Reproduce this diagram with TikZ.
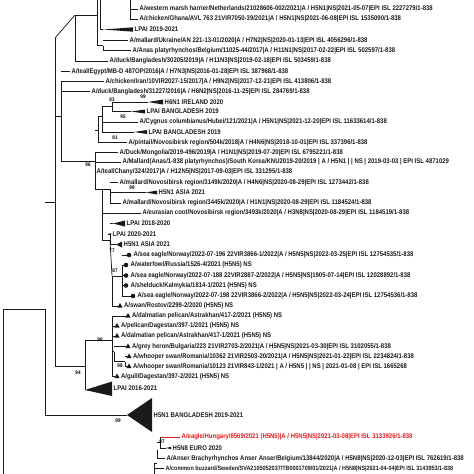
\documentclass[tikz,border=0pt]{standalone}
\usepackage{fontspec}
\setmainfont{Liberation Sans}
\newfontfamily\treefont[FakeStretch=0.88]{Liberation Sans}
\usetikzlibrary{shapes.geometric, positioning, calc}
\definecolor{treered}{HTML}{E3191C}
\definecolor{treeblack}{HTML}{1A1A1A}

\begin{document}
\begin{tikzpicture}[x=1pt, y=-1pt,
    leaf/.style={anchor=west, inner xsep=1.5pt, inner ysep=0pt, font=\treefont\bfseries\fontsize{6.8}{7}\selectfont, text=treeblack},
    boot/.style={inner sep=0pt, font=\treefont\bfseries\fontsize{5.2}{6}\selectfont},
    branch/.style={line width=0.75pt, color=treeblack},
    dot/.style={circle, fill=treeblack, inner sep=0pt, minimum size=4.6pt},
    tri/.style={regular polygon, regular polygon sides=3, fill=treeblack, inner sep=0pt, minimum size=6pt},
    wedge/.style={fill=treeblack}
]
\useasboundingbox (0,0) rectangle (474,474);

% top part (cut off above)
\node[leaf] (l00) at (138,9) {A/western marsh harrier/Netherlands/21028606-002/2021|A / H5N1|NS|2021-05-07|EPI ISL 2227279/1-838};
\node[leaf] (l01) at (138,19) {A/chicken/Ghana/AVL 763 21VIR7050-39/2021|A / H5N1|NS|2021-06-08|EPI ISL 1535090/1-838};
\coordinate (t02) at (103,29.5);
\node[leaf] (l02) at (133,29.5) {LPAI 2019-2021};
\node[leaf] (l03) at (128,40.5) {A/mallard/Ukraine/AN 221-13-01/2020|A / H7N2|NS|2020-01-13|EPI ISL 4056296/1-838};
\node[leaf] (l04) at (131,50.5) {A/Anas platyrhynchos/Belgium/11025-44/2017|A / H11N1|NS|2017-02-22|EPI ISL 502597/1-838};
\node[leaf] (l05) at (108,61) {A/duck/Bangladesh/30205/2019|A / H11N3|NS|2019-02-18|EPI ISL 503459/1-838};

\coordinate (n01) at (130,0);
\coordinate (n02) at (100,0);
\coordinate (n03) at (103,45.5);
\coordinate (n04) at (97,0);
\coordinate (n05) at (75,15);
\coordinate (n06) at (55,38);

\draw[branch] (n01) |- (l00.west);
\draw[branch] (n01) |- (l01.west);
\draw[branch] (n02) |- (t02);
\fill[wedge] (t02) -- (133,27.3) -- (133,31.7) -- cycle;
\draw[branch] (n03 |- l03) |- (l03.west);
\draw[branch] (n03) |- (l04.west);
\draw[branch] (n04) |- (n03);
\draw[branch] (n05) |- (n04 |- n05);
\draw[branch] (n05) |- (l05.west);
\draw[branch] (n06) -- (n05);

% middle part
\node[leaf] (l06) at (70,71.5) {A/teal/Egypt/MB-D 487OP/2016|A / H7N3|NS|2016-01-28|EPI ISL 387968/1-838};
\node[leaf] (l07) at (104,81.5) {A/chicken/Iran/10VIR2027-15/2017|A / H9N2|NS|2017-12-21|EPI ISL 413806/1-838};
\node[leaf] (l08) at (90,91.5) {A/duck/Bangladesh/31227/2016|A / H6N2|NS|2016-11-25|EPI ISL 284769/1-838};
\coordinate (t09) at (148,102);
\node[leaf] (l09) at (163,102) {H6N1 IRELAND 2020};
\coordinate (t10) at (131,111.5);
\node[leaf] (l10) at (145,111.5) {LPAI BANGLADESH 2019};
\node[leaf] (l11) at (138,122) {A/Cygnus columbianus/Hubei/121/2021|A / H5N1|NS|2021-12-20|EPI ISL 11633614/1-838};
\coordinate (t12) at (134,132);
\node[leaf] (l12) at (147,132) {LPAI BANGLADESH 2019};
\node[leaf] (l13) at (127,142.5) {A/pintail/Novosibirsk region/504k/2018|A / H4N6|NS|2018-10-01|EPI ISL 337396/1-838};
\node[leaf] (l14) at (118,152.5) {A/Duck/Mongolia/2019-496/2019|A / H1N1|NS|2019-07-20|EPI ISL 6795221/1-838};
\node[leaf] (l15) at (121,162) {A/Mallard(Anas/1-838 platyrhynchos)/South Korea/KNU2019-20/2019 | A / H5N1 | | NS | 2019-03-03 | EPI ISL 4871029};
\node[leaf] (l16) at (95,172) {A/teal/Chany/324/2017|A / H12N5|NS|2017-09-03|EPI ISL 331295/1-838};
\node[leaf] (l17) at (118,182.5) {A/mallard/Novosibirsk region/3149k/2020|A / H4N6|NS|2020-08-29|EPI ISL 1273442/1-838};
\coordinate (t18) at (146,192.5);
\node[leaf] (l18) at (157,192.5) {H5N1 ASIA 2021};
\node[leaf] (l19) at (121,203) {A/mallard/Novosibirsk region/3445k/2020|A / H1N1|NS|2020-08-29|EPI ISL 1184524/1-838};
\node[leaf] (l20) at (141,213) {A/eurasian coot/Novosibirsk region/3493k/2020|A / H3N8|NS|2020-08-29|EPI ISL 1184519/1-838};
\coordinate (t21) at (113,223.5);
\node[leaf] (l21) at (125,223.5) {LPAI 2018-2020};
\coordinate (t22) at (108,234);
\node[leaf] (l22) at (111,234) {LPAI 2020-2021};
\coordinate (t23) at (116,244.5);
\node[leaf] (l23) at (122,244.5) {H5N1 ASIA 2021};

\coordinate (n10) at (61,116.5);
\coordinate (n11) at (112,106.5);
\coordinate (n12) at (102,116);
\coordinate (n13) at (98,130);
\coordinate (n14) at (95,161);
\coordinate (n15) at (110,189);
\coordinate (n16) at (102,213);
\coordinate (n17) at (110,240);

\draw[branch] (n10 |- l06) |- (l06.west);
\draw[branch] (n10) |- (l07.west);
\draw[branch] (n10) |- (l08.west);
\draw[branch] (n10) |- (n14);
\draw[branch] (n06 |- n10) -- (n10);
\draw[branch] (n11) |- (t09);
\fill[wedge] (t09) -- (163,99.5) -- (163,104.5) -- cycle;
\draw[branch] (n11) |- (t10);
\fill[wedge] (t10) -- (145,109.5) -- (145,113.5) -- cycle;
\draw[branch] (n12) |- (n11);
\draw[branch] (n12) |- (l11.west);
\draw[branch] (n12) |- (t12);
\fill[wedge] (t12) -- (147,130) -- (147,134) -- cycle;
\draw[branch] (n13) |- (n12);
\draw[branch] (n13) |- (l13.west);
\draw[branch] (n14 |- n13) |- (n13);
\draw[branch] (n14) |- (l14.west);
\draw[branch] (n14) |- (l15.west);
\draw[branch] (n14) |- (l16.west);
\draw[branch] (n14) |- (n15);
\draw[branch] (n15 |- l17) |- (l17.west);
\draw[branch] (n15) |- (t18);
\fill[wedge] (t18) -- (157,190.5) -- (157,194.5) -- cycle;
\draw[branch] (n15) |- (l19.west);
\draw[branch] (n16) -- (l20.west);
\draw[branch] (n16) |- (n17);
\draw[branch] (n17 |- t21) |- (t21);
\fill[wedge] (t21) -- (125,220.5) -- (125,226.5) -- cycle;
\draw[branch] (n17) |- (t22);
\fill[wedge] (t22) -- (111,233) -- (111,235) -- cycle;
\draw[branch] (n17) |- (t23);
\fill[wedge] (t23) -- (122,241.5) -- (122,247.5) -- cycle;

\node[boot] (b99a) at (143,97) {99};
\node[boot] (b83) at (112,100) {83};
\node[boot] (b95) at (123,116.5) {95};
\node[boot] (b81) at (115,137.5) {81};
\node[boot] (b96) at (88,165) {96};
\node[boot] (b99b) at (132,187.5) {99};

% H5N5 part
\node[dot] (m24) at (129,255) {};
\node[leaf, right=0.5pt of m24] (l24) {A/sea eagle/Norway/2022-07-196 22VIR3866-1/2022|A / H5N5|NS|2022-03-25|EPI ISL 12754535/1-838};
\node[dot] (m25) at (126,265) {};
\node[leaf, right=0.5pt of m25] (l25) {A/waterfowl/Russia/1526-4/2021 (H5N5) NS};
\node[dot] (m26) at (126,275.5) {};
\node[leaf, right=0.5pt of m26] (l26) {A/sea eagle/Norway/2022-07-188 22VIR2887-2/2022|A / H5N5|NS|1905-07-14|EPI ISL 12028892/1-838};
\node[dot] (m27) at (126,285.5) {};
\node[leaf, right=0.5pt of m27] (l27) {A/shelduck/Kalmykia/1814-1/2021 (H5N5) NS};
\node[dot] (m28) at (133,296) {};
\node[leaf, right=0.5pt of m28] (l28) {A/sea eagle/Norway/2022-07-198 22VIR3866-2/2022|A / H5N5|NS|2022-03-24|EPI ISL 12754536/1-838};
\node[tri] (m29) at (120,306) {};
\node[leaf, right=0.5pt of m29] (l29) {A/swan/Rostov/2299-2/2020 (H5N5) NS};
\node[tri] (m30) at (128,316) {};
\node[leaf, right=0.5pt of m30] (l30) {A/dalmatian pelican/Astrakhan/417-2/2021 (H5N5) NS};
\node[tri] (m31) at (117,326) {};
\node[leaf, right=0.5pt of m31] (l31) {A/pelican/Dagestan/397-1/2021 (H5N5) NS};
\node[tri] (m32) at (117,336) {};
\node[leaf, right=0.5pt of m32] (l32) {A/dalmatian pelican/Astrakhan/417-1/2021 (H5N5) NS};
\node[tri] (m33) at (128,346.5) {};
\node[leaf, right=0.5pt of m33] (l33) {A/grey heron/Bulgaria/223 21VIR2703-2/2021|A / H5N5|NS|2021-03-30|EPI ISL 3102055/1-838};
\node[tri] (m34) at (129,356.5) {};
\node[leaf, right=0.5pt of m34] (l34) {A/whooper swan/Romania/10362 21VIR2503-20/2021|A / H5N5|NS|2021-01-22|EPI ISL 2234824/1-838};
\node[tri] (m35) at (129,366.5) {};
\node[leaf, right=0.5pt of m35] (l35) {A/whooper swan/Romania/10123 21VIR843-1/2021 | A / H5N5 | | NS | 2021-01-08 | EPI ISL 1665268};
\node[tri] (m36) at (117,376.5) {};
\node[leaf, right=0.5pt of m36] (l36) {A/gull/Dagestan/397-2/2021 (H5N5) NS};
\coordinate (t37) at (85,390);
\node[leaf] (l37) at (112,388) {LPAI 2016-2021};

\coordinate (n20) at (122,276);
\coordinate (n21) at (112,326);
\coordinate (n22) at (114,351.5);
\coordinate (n23) at (125,361.5);
\coordinate (n24) at (85,366);
\coordinate (n25) at (55,202.5);

\draw[branch] (n20 |- m24) |- (m24.west);
\draw[branch] (n20) |- (m25.west);
\draw[branch] (n20) |- (m26.west);
\draw[branch] (n20) |- (m27.west);
\draw[branch] (n20) |- (m28.west);
\draw[branch] (n21 |- n20) -- (n20);
\draw[branch] (n21 |- n20) |- (m29.west);
\draw[branch] (n21) |- (m30.west);
\draw[branch] (n21) |- (m31.west);
\draw[branch] (n21) |- (m32.west);
\draw[branch] (n21) |- (n22);
\draw[branch] (n21) |- (m36.west);
\draw[branch] (n22 |- m33) |- (m33.west);
\draw[branch] (n22) |- (n23);
\draw[branch] (n23 |- m34) |- (m34.west);
\draw[branch] (n23) |- (m35.west);
\draw[branch] (n24 |- 0,340) -- (n21 |- 0,340);
\draw[branch] (n24 |- 0,340) |- (t37);
\fill[wedge] (t37) -- (112,381.5) -- (112,396) -- cycle;
\draw[branch] (n06) |- (n24);
\draw[branch] (n16 |- n15) -- (n16);
\draw[branch] (n17) -- (n21 |- n20);

\node[boot] (b77) at (112,251) {77};
\node[boot] (b87a) at (115,271) {87};
\node[boot] (b98a) at (100,340) {98};
\node[boot] (b98b) at (120,365.5) {98};
\node[boot] (b94) at (78,373) {94};

% bottom part
\coordinate (t38) at (127,415);
\node[leaf] (l38) at (152,415) {H5N1 BANGLADESH 2019-2021};
\node[leaf, text=treered] (l39) at (180,437) {A/eagle/Hungary/8569/2021 (H5N5)|A / H5N5|NS|2021-03-08|EPI ISL 3133926/1-838};
\coordinate (t40) at (166,448);
\node[leaf] (l40) at (171,448) {H5N8 EURO 2020};
\node[leaf] (l41) at (165,458.5) {A/Anser Brachyrhynchos Anser Anser/Belgium/13844/2020|A / H5N8|NS|2020-12-03|EPI ISL 762619/1-838};
\node[leaf, font=\treefont\bfseries\fontsize{6.2}{7}\selectfont] (l42) at (164,468.5) {A/common buzzard/Sweden/SVA2105052037/TB0001709/01/2021|A / H5N8|NS|2021-04-04|EPI ISL 3143953/1-838};

\coordinate (n30) at (45,309);
\coordinate (n31) at (3,474);
\coordinate (n32) at (160,442.5);
\coordinate (n33) at (157,450);
\coordinate (n34) at (154,474);

\draw[branch] (n30 |- n25) |- (n25);
\draw[branch] (n30) |- (t38);
\fill[wedge] (t38) -- (152,398) -- (152,432) -- cycle;
\draw[branch] (n31) |- (n30);
\draw[branch, treered] (n32 |- l39) -- (l39.west);
\draw[branch] (n32 |- l39) |- (t40);
\fill[wedge] (t40) -- (171,446.8) -- (171,449.2) -- cycle;
\draw[branch] (n33 |- n32) |- (n32);
\draw[branch] (n33) |- (l41.west);
\draw[branch] (n34) |- (n33 |- 0,463);
\draw[branch] (n34) |- (l42.west);

\node[boot] (b99c) at (118,421) {99};
\node[boot] (b87b) at (162,442) {87};

\end{tikzpicture}
\end{document}
